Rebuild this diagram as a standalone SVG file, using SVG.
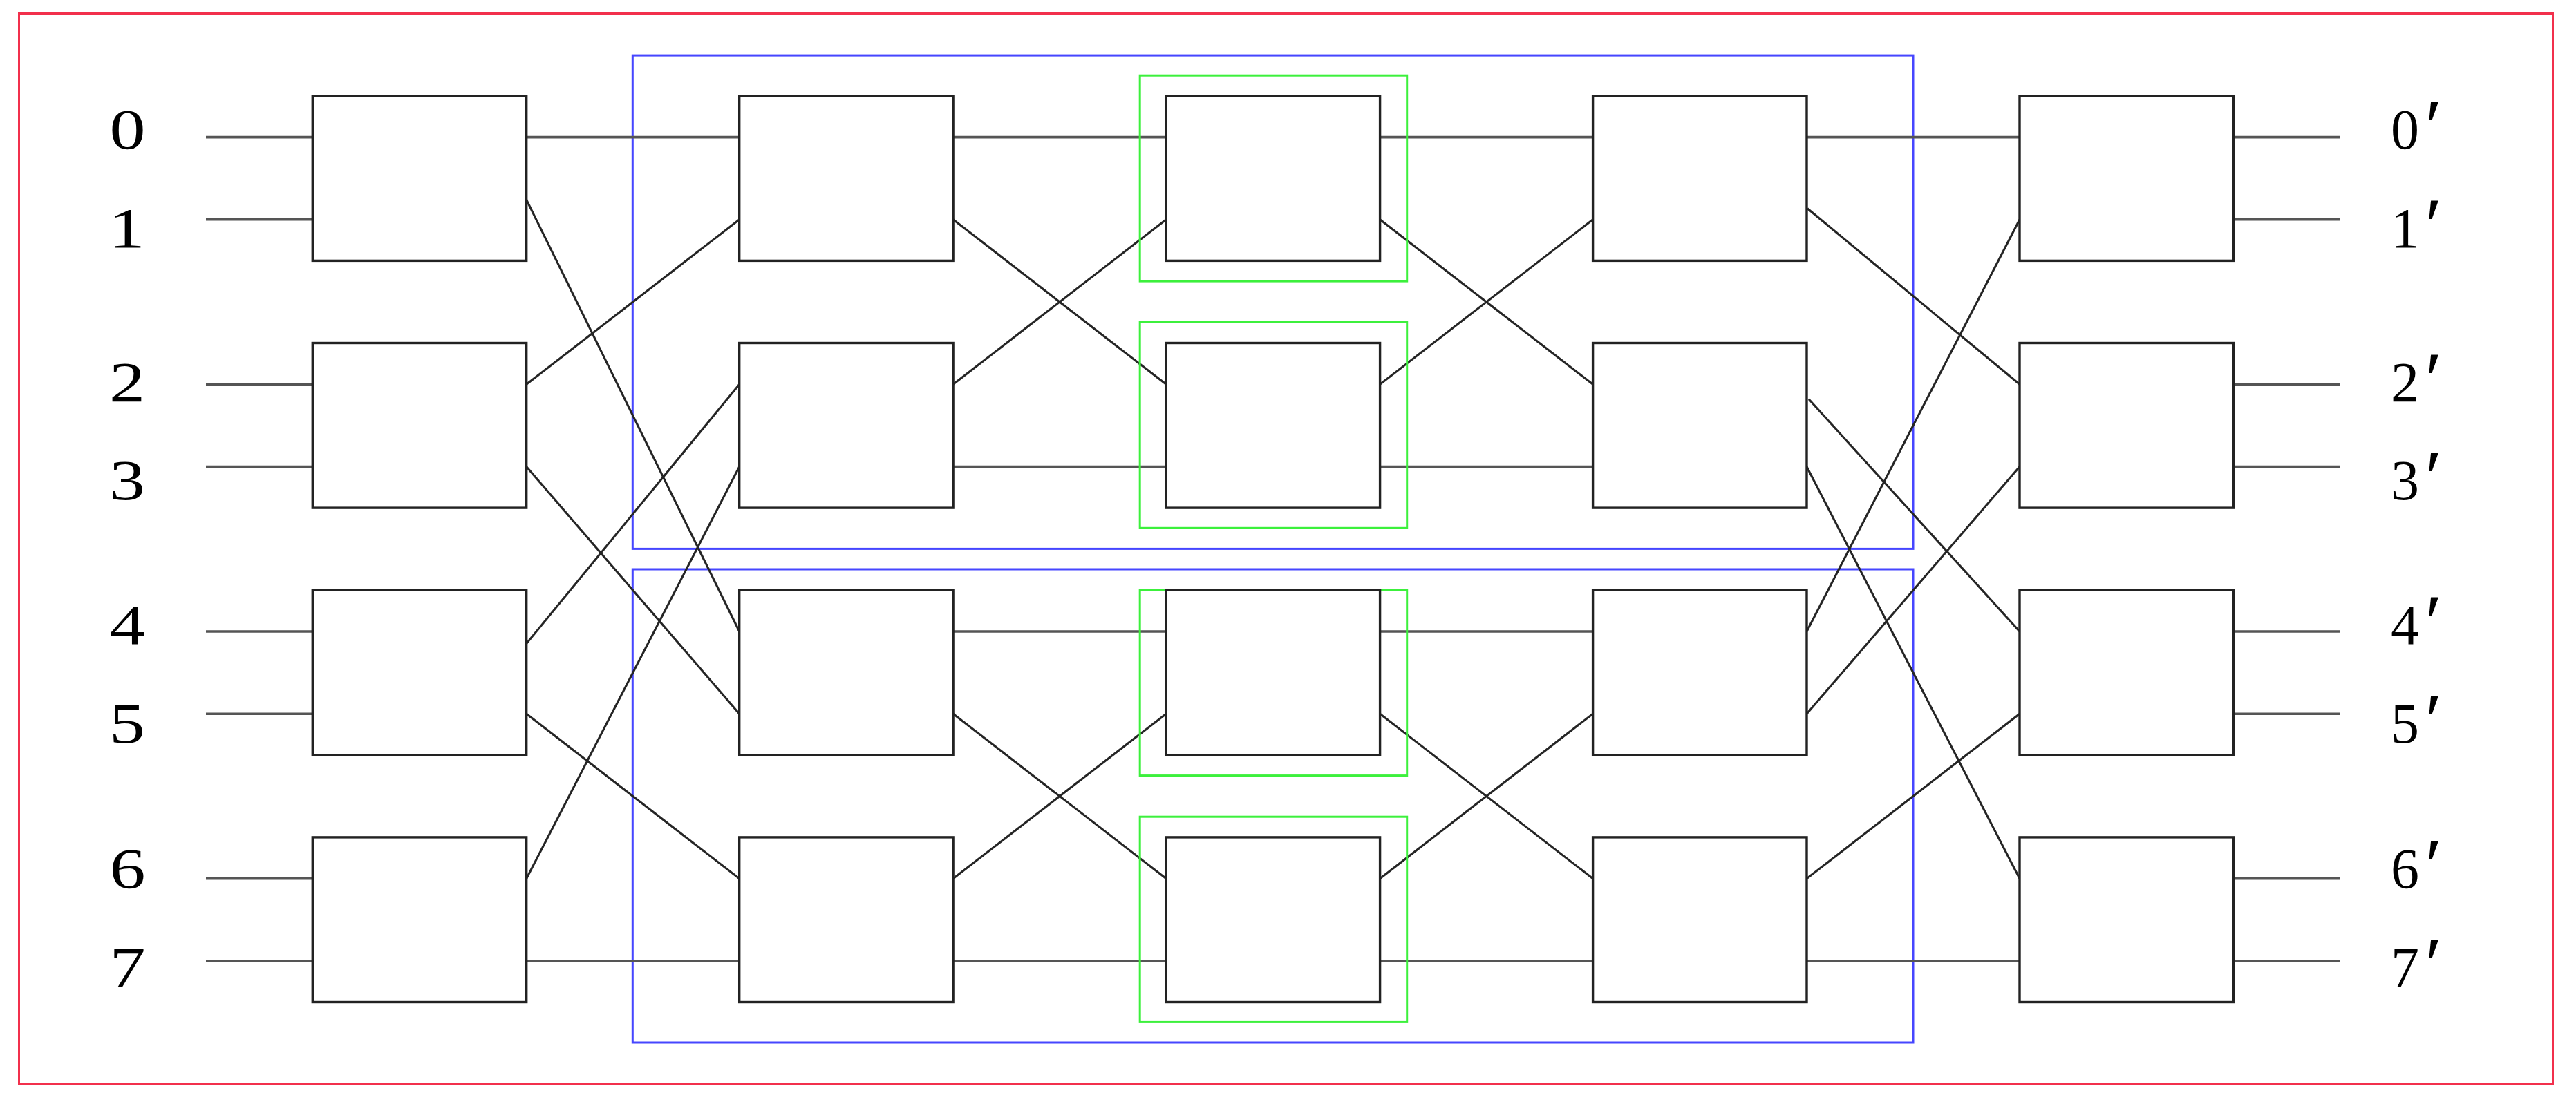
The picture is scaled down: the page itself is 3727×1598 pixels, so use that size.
<svg xmlns="http://www.w3.org/2000/svg" width="3727" height="1598" viewBox="0 0 3727 1598">
<style>
.frame{fill:none;stroke:#f2304c;stroke-width:3}
.blue{fill:none;stroke:#4646ff;stroke-width:3}
.green{fill:none;stroke:#3cf03c;stroke-width:3}
.box{fill:#fff;stroke:#222;stroke-width:3.4}
.h{stroke:#555;stroke-width:3.6;fill:none}
.d{stroke:#252525;stroke-width:3.1;fill:none}
.lbl{font-family:"Liberation Serif","Times New Roman",serif;font-size:82px;fill:#000}
.pr{font-family:"Liberation Serif",serif;font-style:italic;font-size:112px}
</style>
<rect width="3727" height="1598" fill="#fff"/>
<rect class="frame" x="27.5" y="19.5" width="3666" height="1550"/>
<g id="containers">
<rect id="blue-upper" class="blue" x="915.3" y="80.1" width="1852.7" height="714.3"/>
<rect id="blue-lower" class="blue" x="915.3" y="824" width="1852.7" height="685"/>
</g>
<g id="connectors">
<path class="h" d="M298 198.6H452.3M298 317.8H452.3M298 556.3H452.3M298 675.5H452.3M298 914H452.3M298 1033.2H452.3M298 1271.7H452.3M298 1390.9H452.3"/>
<path class="h" d="M3231.4 198.6H3385.6M3231.4 317.8H3385.6M3231.4 556.3H3385.6M3231.4 675.5H3385.6M3231.4 914H3385.6M3231.4 1033.2H3385.6M3231.4 1271.7H3385.6M3231.4 1390.9H3385.6"/>
<path class="h" d="M761.7 198.6H1069.7M761.7 1390.9H1069.7"/>
<path class="h" d="M1379.1 198.6H1687.2M1379.1 675.5H1687.2M1379.1 914H1687.2M1379.1 1390.9H1687.2"/>
<path class="h" d="M1996.6 198.6H2304.6M1996.6 675.5H2304.6M1996.6 914H2304.6M1996.6 1390.9H2304.6"/>
<path class="h" d="M2614 198.6H2922M2614 1390.9H2922"/>
<path class="d" d="M757.5 280.7L1069.7 914"/>
<path class="d" d="M761.7 556.3L1069.7 317.8"/>
<path class="d" d="M761.7 675.5L1069.7 1033.2"/>
<path class="d" d="M758 936L1069.7 556.3"/>
<path class="d" d="M761.7 1033.2L1069.7 1271.7"/>
<path class="d" d="M761.7 1271.7L1069.7 675.5"/>
<path class="d" d="M1379.1 317.8L1687.2 556.3"/>
<path class="d" d="M1379.1 556.3L1687.2 317.8"/>
<path class="d" d="M1379.1 1033.2L1687.2 1271.7"/>
<path class="d" d="M1379.1 1271.7L1687.2 1033.2"/>
<path class="d" d="M1996.6 317.8L2304.6 556.3"/>
<path class="d" d="M1996.6 556.3L2304.6 317.8"/>
<path class="d" d="M1996.6 1033.2L2304.6 1271.7"/>
<path class="d" d="M1996.6 1271.7L2304.6 1033.2"/>
<path class="d" d="M2615 301.7L2922 556.3"/>
<path class="d" d="M2617 577.7L2922 914"/>
<path class="d" d="M2614 675.5L2922 1271.7"/>
<path class="d" d="M2614 914L2922 317.8"/>
<path class="d" d="M2614 1033.2L2922 675.5"/>
<path class="d" d="M2614 1271.7L2922 1033.2"/>
</g>
<g id="green-groups">
<rect id="green-0" class="green" x="1649.2" y="109.2" width="386.5" height="297.9"/>
<rect id="green-1" class="green" x="1649.2" y="466.3" width="386.5" height="298"/>
<rect id="green-2" class="green" x="1649.2" y="854" width="386.5" height="268.6"/>
<rect id="green-3" class="green" x="1649.2" y="1182.2" width="386.5" height="297.2"/>
</g>
<g id="switches">
<g id="s0-0"><rect class="box" x="452.3" y="138.8" width="309.4" height="238.6"/></g>
<g id="s0-1"><rect class="box" x="452.3" y="496.5" width="309.4" height="238.6"/></g>
<g id="s0-2"><rect class="box" x="452.3" y="854.2" width="309.4" height="238.6"/></g>
<g id="s0-3"><rect class="box" x="452.3" y="1211.9" width="309.4" height="238.6"/></g>
<g id="s1-0"><rect class="box" x="1069.7" y="138.8" width="309.4" height="238.6"/></g>
<g id="s1-1"><rect class="box" x="1069.7" y="496.5" width="309.4" height="238.6"/></g>
<g id="s1-2"><rect class="box" x="1069.7" y="854.2" width="309.4" height="238.6"/></g>
<g id="s1-3"><rect class="box" x="1069.7" y="1211.9" width="309.4" height="238.6"/></g>
<g id="s2-0"><rect class="box" x="1687.2" y="138.8" width="309.4" height="238.6"/></g>
<g id="s2-1"><rect class="box" x="1687.2" y="496.5" width="309.4" height="238.6"/></g>
<g id="s2-2"><rect class="box" x="1687.2" y="854.2" width="309.4" height="238.6"/></g>
<g id="s2-3"><rect class="box" x="1687.2" y="1211.9" width="309.4" height="238.6"/></g>
<g id="s3-0"><rect class="box" x="2304.6" y="138.8" width="309.4" height="238.6"/></g>
<g id="s3-1"><rect class="box" x="2304.6" y="496.5" width="309.4" height="238.6"/></g>
<g id="s3-2"><rect class="box" x="2304.6" y="854.2" width="309.4" height="238.6"/></g>
<g id="s3-3"><rect class="box" x="2304.6" y="1211.9" width="309.4" height="238.6"/></g>
<g id="s4-0"><rect class="box" x="2922" y="138.8" width="309.4" height="238.6"/></g>
<g id="s4-1"><rect class="box" x="2922" y="496.5" width="309.4" height="238.6"/></g>
<g id="s4-2"><rect class="box" x="2922" y="854.2" width="309.4" height="238.6"/></g>
<g id="s4-3"><rect class="box" x="2922" y="1211.9" width="309.4" height="238.6"/></g>
</g>
<g id="inputs" class="lbl" text-anchor="middle">
<text id="in-0" transform="translate(184.5,215) scale(1.27,1)">0</text>
<text id="in-1" transform="translate(183.5,357.5) scale(1.27,1)">1</text>
<text id="in-2" transform="translate(184,580.5) scale(1.27,1)">2</text>
<text id="in-3" transform="translate(184,722.5) scale(1.27,1)">3</text>
<text id="in-4" transform="translate(184.5,932) scale(1.27,1)">4</text>
<text id="in-5" transform="translate(184,1075) scale(1.27,1)">5</text>
<text id="in-6" transform="translate(184.5,1285) scale(1.27,1)">6</text>
<text id="in-7" transform="translate(184.5,1428) scale(1.27,1)">7</text>
</g>
<g id="outputs" class="lbl">
<text id="out-0" x="3459" y="215">0<tspan class="pr" dx="2" dy="6">′</tspan></text>
<text id="out-1" x="3459" y="357.5">1<tspan class="pr" dx="2" dy="6">′</tspan></text>
<text id="out-2" x="3459" y="580.5">2<tspan class="pr" dx="2" dy="6">′</tspan></text>
<text id="out-3" x="3459" y="722.5">3<tspan class="pr" dx="2" dy="6">′</tspan></text>
<text id="out-4" x="3459" y="932">4<tspan class="pr" dx="2" dy="6">′</tspan></text>
<text id="out-5" x="3459" y="1075">5<tspan class="pr" dx="2" dy="6">′</tspan></text>
<text id="out-6" x="3459" y="1285">6<tspan class="pr" dx="2" dy="6">′</tspan></text>
<text id="out-7" x="3459" y="1428">7<tspan class="pr" dx="2" dy="6">′</tspan></text>
</g>
</svg>
